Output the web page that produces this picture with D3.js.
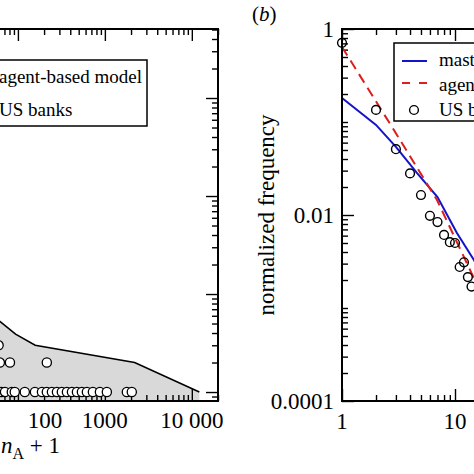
<!DOCTYPE html>
<meta charset="utf-8">
<style>
  body { margin: 0; background: #fff; }
  svg { display: block; }
  text { font-family: "Liberation Serif", "Times New Roman", serif; fill: #000; }
  .frame { fill: none; stroke: #000; stroke-width: 2px; }
  .tick line { stroke: #000; stroke-width: 1.4px; }
</style>
<body>
<svg width="474" height="474"></svg>
<script src="https://d3js.org/d3.v7.min.js"></script>
<script>
// (a) agent-based model envelope (upper edge) and US banks
const bandX = [40, 63, 94, 158, 2200, 12200];
const bandY = [7.2, 5.2, 3.9, 3.0, 2.0, 1.0];

const banksAX = [65, 71, 85, 92, 120, 157, 189, 215, 246, 281, 320, 366, 418, 477, 544, 621, 728, 877, 1054, 1790, 2040,
                 62, 81, 215, 60];
const banksAY = [1, 1, 1, 1, 1, 1, 1, 1, 1, 1, 1, 1, 1, 1, 1, 1, 1, 1, 1, 1, 1,
                 2, 2, 2, 3];

const xTicksA = [100, 1000, 10000];
const xTickTextA = ['100', '1000', '10 000'];

// (b) normalized frequency
const masterX = [1, 2, 3, 4.6, 7, 10.4, 14.7, 20];
const masterY = [0.181, 0.093, 0.054, 0.0283, 0.0156, 0.0064, 0.00328, 0.00167];

const agentX = [1, 2.88, 6.93, 12.7, 20];
const agentY = [0.64, 0.082, 0.0145, 0.00305, 0.00094];

const banksBX = [1, 2, 3, 4, 5, 6, 7, 8, 9, 10, 11, 12, 13, 14];
const banksBY = [0.71, 0.135, 0.051, 0.028, 0.0164, 0.0098, 0.0084, 0.0061, 0.0051, 0.005, 0.00276, 0.0031, 0.00215, 0.0017];

const xTicksB = [1, 10];
const yTicksB = [1, 0.01, 0.0001];
const yTickTextB = ['1', '0.01', '0.0001'];

const legendA = ['agent-based model', 'US banks'];
const legendB = ['master equation', 'agent-based model', 'US banks'];

const svg = d3.select('svg');

// inward ticks, long ones on majors
function ticks(g, axis, scale, isMajor) {
  const all = scale.ticks();
  g.append('g').call(axis(scale).tickValues(all.filter(v => !isMajor(v))).tickSize(-6).tickFormat(''))
    .call(s => s.select('.domain').remove());
  g.append('g').call(axis(scale).tickValues(all.filter(isMajor)).tickSize(-12).tickFormat(''))
    .call(s => s.select('.domain').remove());
}
const decade = v => Math.abs(Math.log10(v) - Math.round(Math.log10(v))) < 1e-6;

// ---------- panel (a)
const xA = d3.scaleLog().domain([1, 20000]).range([-156, 218]);
const yA = d3.scaleLog().domain([0.81, 5060]).range([401, 29]);

const band = bandX.map((x, i) => [x, bandY[i]]);
svg.append('path')
  .datum(band)
  .attr('d', d3.area().x(d => xA(d[0])).y0(yA.range()[0]).y1(d => yA(d[1])))
  .attr('fill', '#d9d9d9');
svg.append('path')
  .datum(band)
  .attr('d', d3.line().x(d => xA(d[0])).y(d => yA(d[1])))
  .attr('fill', 'none')
  .attr('stroke', '#000')
  .attr('stroke-width', 1.6);

const gA = svg.append('g');
ticks(gA.append('g').attr('transform', 'translate(0,29)'), d3.axisTop, xA, decade);
ticks(gA.append('g').attr('transform', 'translate(0,401)'), d3.axisBottom, xA, decade);
ticks(gA.append('g').attr('transform', 'translate(218,0)'), d3.axisRight, yA, decade);

svg.append('g')
  .selectAll('circle')
  .data(banksAX.map((x, i) => [x, banksAY[i]]))
  .join('circle')
  .attr('cx', d => xA(d[0]))
  .attr('cy', d => yA(d[1]))
  .attr('r', 4.6)
  .attr('fill', '#fff')
  .attr('stroke', '#000')
  .attr('stroke-width', 1.3);

svg.append('rect').attr('class', 'frame')
  .attr('x', xA.range()[0]).attr('y', 29)
  .attr('width', xA.range()[1] - xA.range()[0]).attr('height', 372);

svg.append('g')
  .selectAll('text')
  .data(xTicksA)
  .join('text')
  .attr('x', (d, i) => xA(d) + (i === 0 ? 27 : 0))
  .attr('y', 428)
  .attr('text-anchor', 'middle')
  .attr('font-size', 23)
  .text((d, i) => xTickTextA[i]);

const xlab = svg.append('text').attr('x', 1).attr('y', 453).attr('font-size', 23);
xlab.append('tspan').attr('font-style', 'italic').text('n');
xlab.append('tspan').attr('font-size', 16).attr('dy', 6).text('A');
xlab.append('tspan').attr('dy', -6).text(' + 1');

svg.append('rect')
  .attr('x', -100).attr('y', 60).attr('width', 247).attr('height', 66)
  .attr('fill', '#fff').attr('stroke', '#000').attr('stroke-width', 1.5);
svg.append('g')
  .selectAll('text')
  .data(legendA)
  .join('text')
  .attr('x', -1)
  .attr('y', (d, i) => 83 + i * 33)
  .attr('font-size', 19)
  .text(d => d);

// ---------- panel (b)
const xB = d3.scaleLog().domain([1, 100]).range([342, 568]);
const yB = d3.scaleLog().domain([0.0001, 1]).range([401, 29]);

const gB = svg.append('g');
ticks(gB.append('g').attr('transform', 'translate(0,29)'), d3.axisTop, xB, decade);
ticks(gB.append('g').attr('transform', 'translate(0,401)'), d3.axisBottom, xB, decade);
ticks(gB.append('g').attr('transform', 'translate(342,0)'), d3.axisLeft, yB,
  v => decade(v) && Math.round(Math.log10(v)) % 2 === 0);

const lineB = d3.line().x(d => xB(d[0])).y(d => yB(d[1]));
svg.append('path')
  .datum(masterX.map((x, i) => [x, masterY[i]]))
  .attr('d', lineB)
  .attr('fill', 'none').attr('stroke', '#1414c8').attr('stroke-width', 2);
svg.append('path')
  .datum(agentX.map((x, i) => [x, agentY[i]]))
  .attr('d', lineB)
  .attr('fill', 'none').attr('stroke', '#dc1e1e').attr('stroke-width', 2)
  .attr('stroke-dasharray', '10,6');

svg.append('g')
  .selectAll('circle')
  .data(banksBX.map((x, i) => [x, banksBY[i]]))
  .join('circle')
  .attr('cx', d => xB(d[0]))
  .attr('cy', d => yB(d[1]))
  .attr('r', 4.4)
  .attr('fill', 'none')
  .attr('stroke', '#000')
  .attr('stroke-width', 1.4);

svg.append('rect').attr('class', 'frame')
  .attr('x', 342).attr('y', 29).attr('width', 226).attr('height', 372);

svg.append('g')
  .selectAll('text')
  .data(xTicksB)
  .join('text')
  .attr('x', d => xB(d))
  .attr('y', 429)
  .attr('text-anchor', 'middle')
  .attr('font-size', 23)
  .text(d => d);

svg.append('g')
  .selectAll('text')
  .data(yTicksB)
  .join('text')
  .attr('x', 334)
  .attr('y', d => yB(d) + 8)
  .attr('text-anchor', 'end')
  .attr('font-size', 23)
  .text((d, i) => yTickTextB[i]);

svg.append('text')
  .attr('transform', 'translate(274,215) rotate(-90)')
  .attr('text-anchor', 'middle')
  .attr('font-size', 23)
  .text('normalized frequency');

const tag = svg.append('text').attr('x', 252).attr('y', 21).attr('font-size', 21);
tag.append('tspan').text('(');
tag.append('tspan').attr('font-style', 'italic').text('b');
tag.append('tspan').text(')');

// legend (b)
const lg = svg.append('g');
lg.append('rect')
  .attr('x', 394).attr('y', 43).attr('width', 200).attr('height', 78)
  .attr('fill', '#fff').attr('stroke', '#000').attr('stroke-width', 1.5);
lg.append('line').attr('x1', 402).attr('x2', 427).attr('y1', 61).attr('y2', 61)
  .attr('stroke', '#1414c8').attr('stroke-width', 2);
lg.append('line').attr('x1', 402).attr('x2', 428).attr('y1', 83).attr('y2', 83)
  .attr('stroke', '#dc1e1e').attr('stroke-width', 2).attr('stroke-dasharray', '8,9');
lg.append('circle').attr('cx', 414).attr('cy', 110).attr('r', 4.4)
  .attr('fill', 'none').attr('stroke', '#000').attr('stroke-width', 1.4);
lg.selectAll('text')
  .data(legendB)
  .join('text')
  .attr('x', 439)
  .attr('y', (d, i) => 66 + i * 25)
  .attr('font-size', 19)
  .text(d => d);
</script>
</body>
